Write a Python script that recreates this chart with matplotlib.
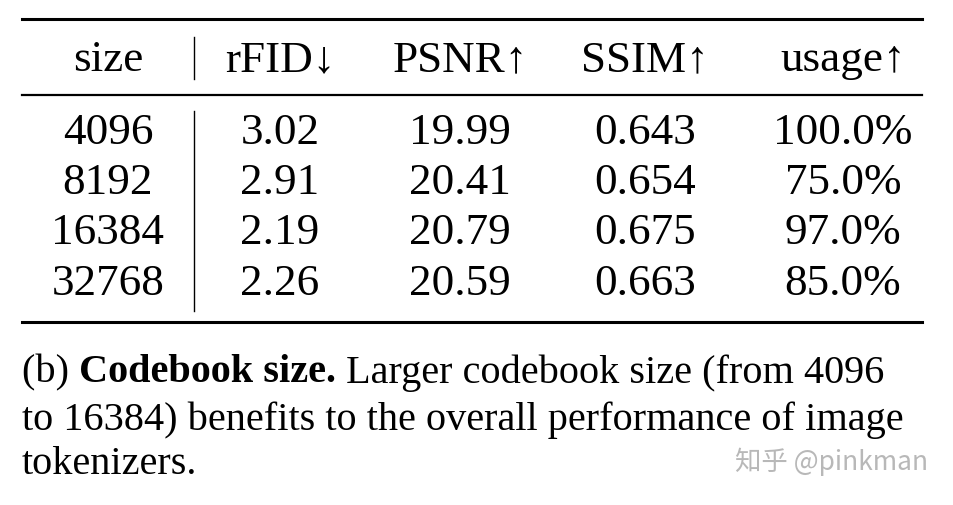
import matplotlib
matplotlib.use("Agg")
import matplotlib.pyplot as plt
from matplotlib.lines import Line2D

headers = ["size", "rFID↓", "PSNR↑", "SSIM↑", "usage↑"]
sizes = ["4096", "8192", "16384", "32768"]
rfid = ["3.02", "2.91", "2.19", "2.26"]
psnr = ["19.99", "20.41", "20.79", "20.59"]
ssim = ["0.643", "0.654", "0.675", "0.663"]
usage = ["100.0%", "75.0%", "97.0%", "85.0%"]

W, H = 954, 506
fig = plt.figure(figsize=(W/100, H/100), dpi=100)
fam = ["Liberation Serif", "DejaVu Serif"]

def Y(py): return 1 - py / H
def X(px): return px / W

def hline(py, x0=22, x1=922, lw=2.2):
    fig.add_artist(Line2D([X(x0), X(x1)], [Y(py), Y(py)], color="black", lw=lw))
def vline(px, y0, y1):
    fig.add_artist(Line2D([X(px), X(px)], [Y(y0), Y(y1)], color="black", lw=1.0))

hline(20); hline(96, lw=1.6); hline(323)
vline(194, 38, 80); vline(194, 112, 312)

cols = [108, 280, 460, 645, 843]
fs = 32.5
for cx, h in zip(cols, headers):
    fig.text(X(cx), Y(60), h, ha="center", va="center", fontsize=fs, family=fam)
rows_y = [133, 183, 233, 284]
data = [sizes, rfid, psnr, ssim, usage]
for ci, col in enumerate(data):
    for ri, v in enumerate(col):
        fig.text(X(cols[ci]), Y(rows_y[ri]), v, ha="center", va="center", fontsize=fs, family=fam)

cfs = 29
r = fig.canvas.get_renderer()
x = X(22)
for txt, wt in [("(b) ", "normal"), ("Codebook size.", "bold"), (" Larger codebook size (from 4096", "normal")]:
    t = fig.text(x, Y(373), txt, ha="left", va="center", fontsize=cfs, family=fam, weight=wt)
    bb = t.get_window_extent(renderer=r)
    x = bb.x1 / W
fig.text(X(22), Y(420), "to 16384) benefits to the overall performance of image", ha="left", va="center", fontsize=cfs, family=fam)
fig.text(X(22), Y(465), "tokenizers.", ha="left", va="center", fontsize=cfs, family=fam)

fig.text(X(928), Y(462), "知乎 @pinkman", ha="right", va="center", fontsize=19,
         family=["Noto Sans CJK SC", "DejaVu Sans"], color="#b8b8b8")

fig.savefig("out.png", dpi=100, facecolor="white")
